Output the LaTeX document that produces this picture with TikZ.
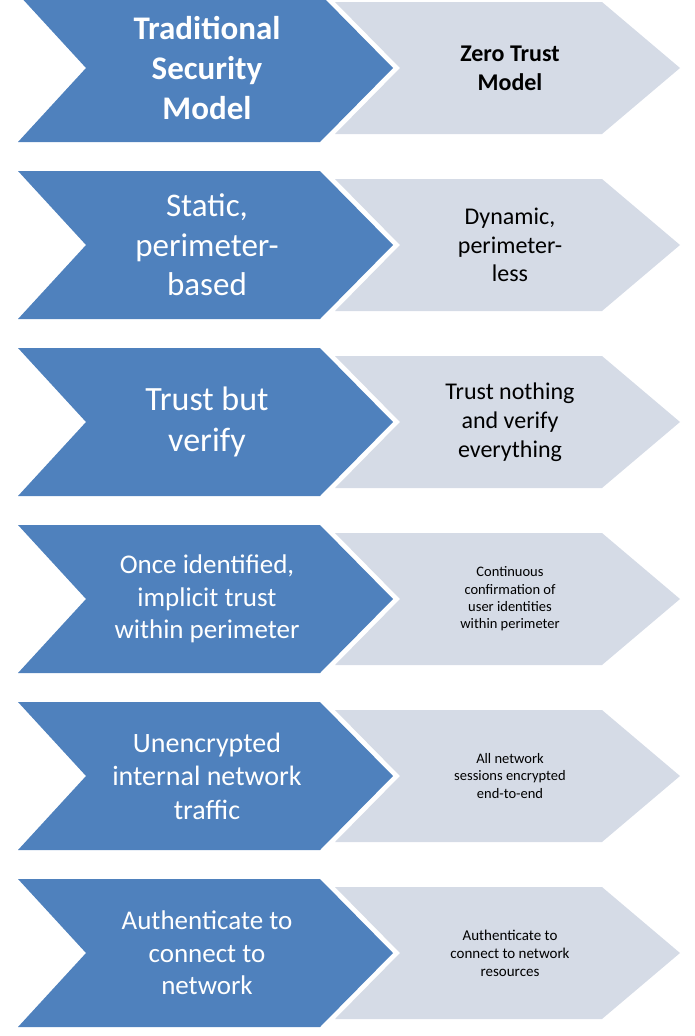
\documentclass[tikz,border=0pt]{standalone}
\usepackage{fontspec}
\setmainfont{Carlito}
\begin{document}
\begin{tikzpicture}[x=1pt,y=-1pt,
 txt/.style={align=center,inner sep=0pt},
 bl/.style={txt,text=white},
 gr/.style={txt,text=black}]
\definecolor{cblue}{HTML}{4F81BD}
\definecolor{cgray}{HTML}{D5DBE6}
\useasboundingbox (0,0) rectangle (695,1036);
\foreach \i/\L/\R/\ls/\rs in {
 0/{\textbf{Traditional}\\\textbf{Security}\\\textbf{Model}}/{\textbf{Zero Trust}\\\textbf{Model}}/33/24,
 1/{Static,\\perimeter-\\based}/{Dynamic,\\perimeter-\\less}/33/24,
 2/{Trust but\\verify}/{Trust nothing\\and verify\\everything}/34/24,
 3/{Once identified,\\implicit trust\\within perimeter}/{Continuous\\confirmation of\\user identities\\within perimeter}/27/14.5,
 4/{Unencrypted\\internal network\\traffic}/{All network\\sessions encrypted\\end-to-end}/28/14.5,
 5/{Authenticate to\\connect to\\network}/{Authenticate to\\connect to network\\resources}/27/15}{
 \pgfmathsetmacro{\t}{-6+177*\i}
 \pgfmathsetmacro{\m}{\t+74}
 \pgfmathsetmacro{\b}{\t+148}
 \pgfmathsetmacro{\lb}{\ls*1.2}
 \pgfmathsetmacro{\rb}{\rs*1.2}
 \fill[cgray] (335,\t+8) -- (602,\t+8) -- (680,\m) -- (602,\b-8) -- (335,\b-8) -- (400,\m) -- cycle;
 \fill[cblue] (18,\t) -- (320,\t) -- (393,\m) -- (320,\b) -- (18,\b) -- (86,\m) -- cycle;
 \node[bl,font=\fontsize{\ls pt}{\lb pt}\selectfont] (l\i) at (207,\m) {\L};
 \node[gr,font=\fontsize{\rs pt}{\rb pt}\selectfont] (r\i) at (510,\m) {\R};
}
\end{tikzpicture}
\end{document}
